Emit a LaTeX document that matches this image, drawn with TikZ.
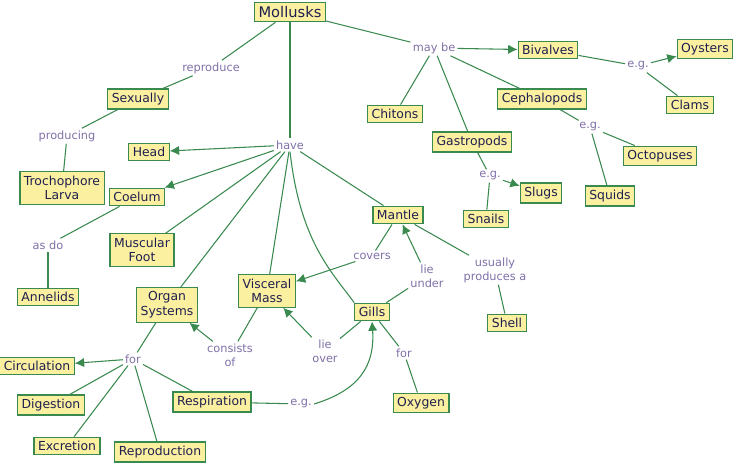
\documentclass[tikz,border=0pt]{standalone}
\usepackage{fontspec}
\setmainfont{DejaVu Sans}
\usetikzlibrary{arrows.meta}
\definecolor{bfill}{HTML}{FAF0A0}
\definecolor{bdraw}{HTML}{3A8A50}
\definecolor{btext}{HTML}{202050}
\definecolor{ltext}{HTML}{8070A8}
\begin{document}
\begin{tikzpicture}[x=0.75pt,y=-0.75pt,
 box/.style={draw=bdraw,fill=bfill,text=btext,line width=0.9pt,inner xsep=3pt,inner ysep=3pt,font=\fontsize{9.3}{11}\selectfont,align=center},
 lab/.style={text=ltext,inner sep=1.5pt,font=\fontsize{8.5}{10.5}\selectfont,align=center},
 ln/.style={draw=bdraw,line width=0.8pt},
 ar/.style={ln,-{Latex[length=7pt,width=7pt]}}]
\useasboundingbox (0,0) rectangle (736,467);
\node[box,font=\fontsize{11}{13}\selectfont] (mol) at (290,12) {Mollusks};
\node[box] (biv) at (548,50) {Bivalves};
\node[box] (oys) at (705,49) {Oysters};
\node[box] (clam) at (690,105) {Clams};
\node[box] (chi) at (395,114) {Chitons};
\node[box] (ceph) at (542,99) {Cephalopods};
\node[box] (gas) at (472,142) {Gastropods};
\node[box] (oct) at (660,156) {Octopuses};
\node[box] (slug) at (541,193) {Slugs};
\node[box] (squ) at (610,196) {Squids};
\node[box] (snail) at (486,219) {Snails};
\node[box] (sex) at (138,99) {Sexually};
\node[box] (head) at (149,152) {Head};
\node[box] (tro) at (62,188) {Trochophore\\Larva};
\node[box] (coe) at (137,197) {Coelum};
\node[box] (man) at (398,215) {Mantle};
\node[box] (foot) at (142,250) {Muscular\\Foot};
\node[box] (vis) at (267,291) {Visceral\\Mass};
\node[box] (org) at (167,305) {Organ\\Systems};
\node[box] (ann) at (48,297) {Annelids};
\node[box] (shell) at (507,323) {Shell};
\node[box] (gill) at (372,312) {Gills};
\node[box] (circ) at (37,366) {Circulation};
\node[box] (dig) at (51,405) {Digestion};
\node[box] (resp) at (212,402) {Respiration};
\node[box] (oxy) at (421,403) {Oxygen};
\node[box] (exc) at (67,446) {Excretion};
\node[box] (rep) at (160,452) {Reproduction};
\node[lab] (l1) at (211,68) {reproduce};
\node[lab] (l2) at (434,48) {may be};
\node[lab] (l3) at (638,66) {e.g.};
\node[lab] (l4) at (590,127) {e.g.};
\node[lab] (l5) at (67,136) {producing};
\node[lab] (l6) at (290,145) {have};
\node[lab] (l7) at (490,176) {e.g.};
\node[lab] (l8) at (48,245) {as do};
\node[lab] (l9) at (372,256) {covers};
\node[lab] (l10) at (427,276) {lie\\under};
\node[lab] (l11) at (495,270) {usually\\produces a};
\node[lab] (l12) at (230,355) {consists\\of};
\node[lab] (l13) at (325,351) {lie\\over};
\node[lab] (l14) at (133,359) {for};
\node[lab] (l15) at (404,353) {for};
\node[lab] (l16) at (301,404) {e.g.};
\draw[ln] (mol) -- (l1); \draw[ln] (l1) -- (sex);
\draw[ln] (sex) -- (l5); \draw[ln] (l5) -- (tro);
\draw[ln] (mol) -- (l2); \draw[ar] (l2) -- (biv);
\draw[ln] (l2) -- (chi); \draw[ln] (l2) -- (gas); \draw[ln] (l2) -- (ceph);
\draw[ln] (biv) -- (l3); \draw[ar] (l3) -- (oys); \draw[ln] (l3) -- (clam);
\draw[ln] (ceph) -- (l4); \draw[ln] (l4) -- (oct); \draw[ln] (l4) -- (squ);
\draw[ln] (gas) -- (l7); \draw[ar] (l7) -- (slug); \draw[ln] (l7) -- (snail);
\draw[ln] (mol) -- (l6);
\draw[ar] (l6) -- (head); \draw[ar] (l6) -- (coe); \draw[ln] (l6) -- (foot);
\draw[ln] (l6) -- (org); \draw[ln] (l6) -- (vis); \draw[ln] (l6) -- (man);
\draw[ln] (l6.south) .. controls (300,240) and (330,270) .. (gill.north west);
\draw[ln] (coe) -- (l8); \draw[ln] (l8) -- (ann);
\draw[ln] (man) -- (l9); \draw[ar] (l9) -- (vis);
\draw[ln] (gill) -- (l10); \draw[ar] (l10) -- (man);
\draw[ln] (man) -- (l11); \draw[ln] (l11) -- (shell);
\draw[ln] (gill) -- (l13); \draw[ar] (l13) -- (vis);
\draw[ln] (vis) -- (l12); \draw[ar] (l12) -- (org);
\draw[ln] (org) -- (l14); \draw[ar] (l14) -- (circ);
\draw[ln] (l14) -- (dig); \draw[ln] (l14) -- (exc); \draw[ln] (l14) -- (rep); \draw[ln] (l14) -- (resp);
\draw[ln] (resp) -- (l16); \draw[ar] (l16.east) .. controls (360,390) and (375,365) .. (gill.south);
\draw[ln] (gill) -- (l15); \draw[ln] (l15) -- (oxy);
\end{tikzpicture}
\end{document}
